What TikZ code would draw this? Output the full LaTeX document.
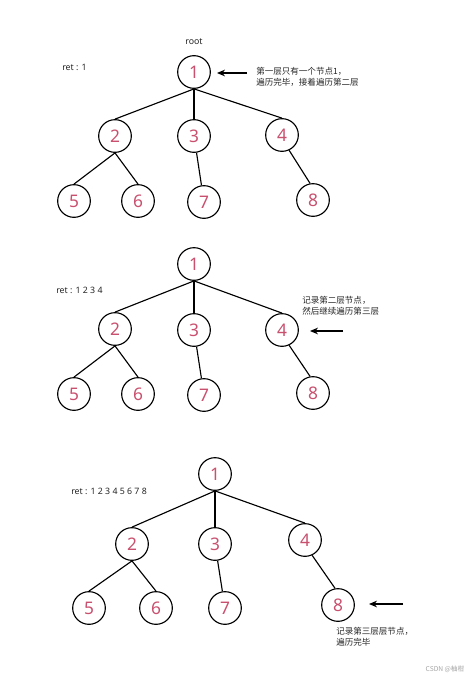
\documentclass[tikz,border=0pt]{standalone}
\usepackage{fontspec}
\setmainfont{Noto Sans}
\newfontfamily\cjk{Noto Sans CJK SC}
\usetikzlibrary{arrows.meta}
\definecolor{digit}{HTML}{C9506E}
\begin{document}
\begin{tikzpicture}[x=0.75pt,y=-0.75pt,
  tn/.style={circle,draw=black,line width=0.85pt,minimum size=24.5pt,inner sep=0pt,
    text=digit,font=\fontsize{13}{13}\selectfont},
  edge/.style={line width=0.85pt},
  ptr/.style={line width=0.85pt,-{Stealth[length=6pt,width=5pt]}},
  lbl/.style={font=\cjk\fontsize{6.4}{8.3}\selectfont,text=black!85,inner sep=0pt,align=left,anchor=north west},
  ret/.style={font=\fontsize{6.6}{8}\selectfont,text=black!85,inner sep=0pt,anchor=west}]
\useasboundingbox[fill=white] (0,0) rectangle (474,678);

% ---------- tree 1 ----------
\node[font=\fontsize{6.6}{8}\selectfont,text=black!85,inner sep=0pt] (root) at (194,42) {root};
\node[ret] (ret1) at (62,67) {ret : 1};
\node[tn] (a1) at (194,72) {1};
\node[tn] (a2) at (115,136) {2};
\node[tn] (a3) at (194,136) {3};
\node[tn] (a4) at (282,135) {4};
\node[tn] (a5) at (74,201) {5};
\node[tn] (a6) at (138,201) {6};
\node[tn] (a7) at (204,202) {7};
\node[tn] (a8) at (313,200) {8};
\draw[edge] (a1.south) -- (a2.north);
\draw[edge] (a1.south) -- (a3.north);
\draw[edge] (a1.south) -- (a4.north);
\draw[edge] (a2.south) -- (a5.north);
\draw[edge] (a2.south) -- (a6.north);
\draw[edge] (a3) -- (a7);
\draw[edge] (a4.-65) -- (a8.100);
\coordinate (p1) at (247,73);
\coordinate (q1) at (217,73);
\draw[ptr] (p1) -- (q1);
\node[lbl] (t1) at (256,67) {第一层只有一个节点1，\\遍历完毕，接着遍历第二层};

% ---------- tree 2 ----------
\node[ret] (ret2) at (56,290) {ret : 1 2 3 4};
\node[tn] (b1) at (194,264) {1};
\node[tn] (b2) at (115,329) {2};
\node[tn] (b3) at (194,330) {3};
\node[tn] (b4) at (282,330) {4};
\node[tn] (b5) at (74,394) {5};
\node[tn] (b6) at (138,394) {6};
\node[tn] (b7) at (204,395) {7};
\node[tn] (b8) at (313,393) {8};
\draw[edge] (b1.south) -- (b2.north);
\draw[edge] (b1.south) -- (b3.north);
\draw[edge] (b1.south) -- (b4.north);
\draw[edge] (b2.south) -- (b5.north);
\draw[edge] (b2.south) -- (b6.north);
\draw[edge] (b3) -- (b7);
\draw[edge] (b4.-65) -- (b8.100);
\coordinate (p2) at (343,331);
\coordinate (q2) at (310,331);
\draw[ptr] (p2) -- (q2);
\node[lbl] (t2) at (302,296) {记录第二层节点，\\然后继续遍历第三层};

% ---------- tree 3 ----------
\node[ret] (ret3) at (71,491) {ret : 1 2 3 4 5 6 7 8};
\node[tn] (c1) at (215,474) {1};
\node[tn] (c2) at (132,544) {2};
\node[tn] (c3) at (215,544) {3};
\node[tn] (c4) at (305,540) {4};
\node[tn] (c5) at (89,608) {5};
\node[tn] (c6) at (156,608) {6};
\node[tn] (c7) at (225,608) {7};
\node[tn] (c8) at (338,605) {8};
\draw[edge] (c1.south) -- (c2.north);
\draw[edge] (c1.south) -- (c3.north);
\draw[edge] (c1.south) -- (c4.north);
\draw[edge] (c2.south) -- (c5.north);
\draw[edge] (c2.south) -- (c6.north);
\draw[edge] (c3) -- (c7);
\draw[edge] (c4.-65) -- (c8.100);
\coordinate (p3) at (403,604);
\coordinate (q3) at (369,604);
\draw[ptr] (p3) -- (q3);
\node[lbl] (t3) at (336,627) {记录第三层层节点，\\遍历完毕};

\node[font=\cjk\fontsize{5}{6}\selectfont,text=black!35,inner sep=0pt] (wm) at (445,669) {CSDN @柚柑};
\end{tikzpicture}
\end{document}
